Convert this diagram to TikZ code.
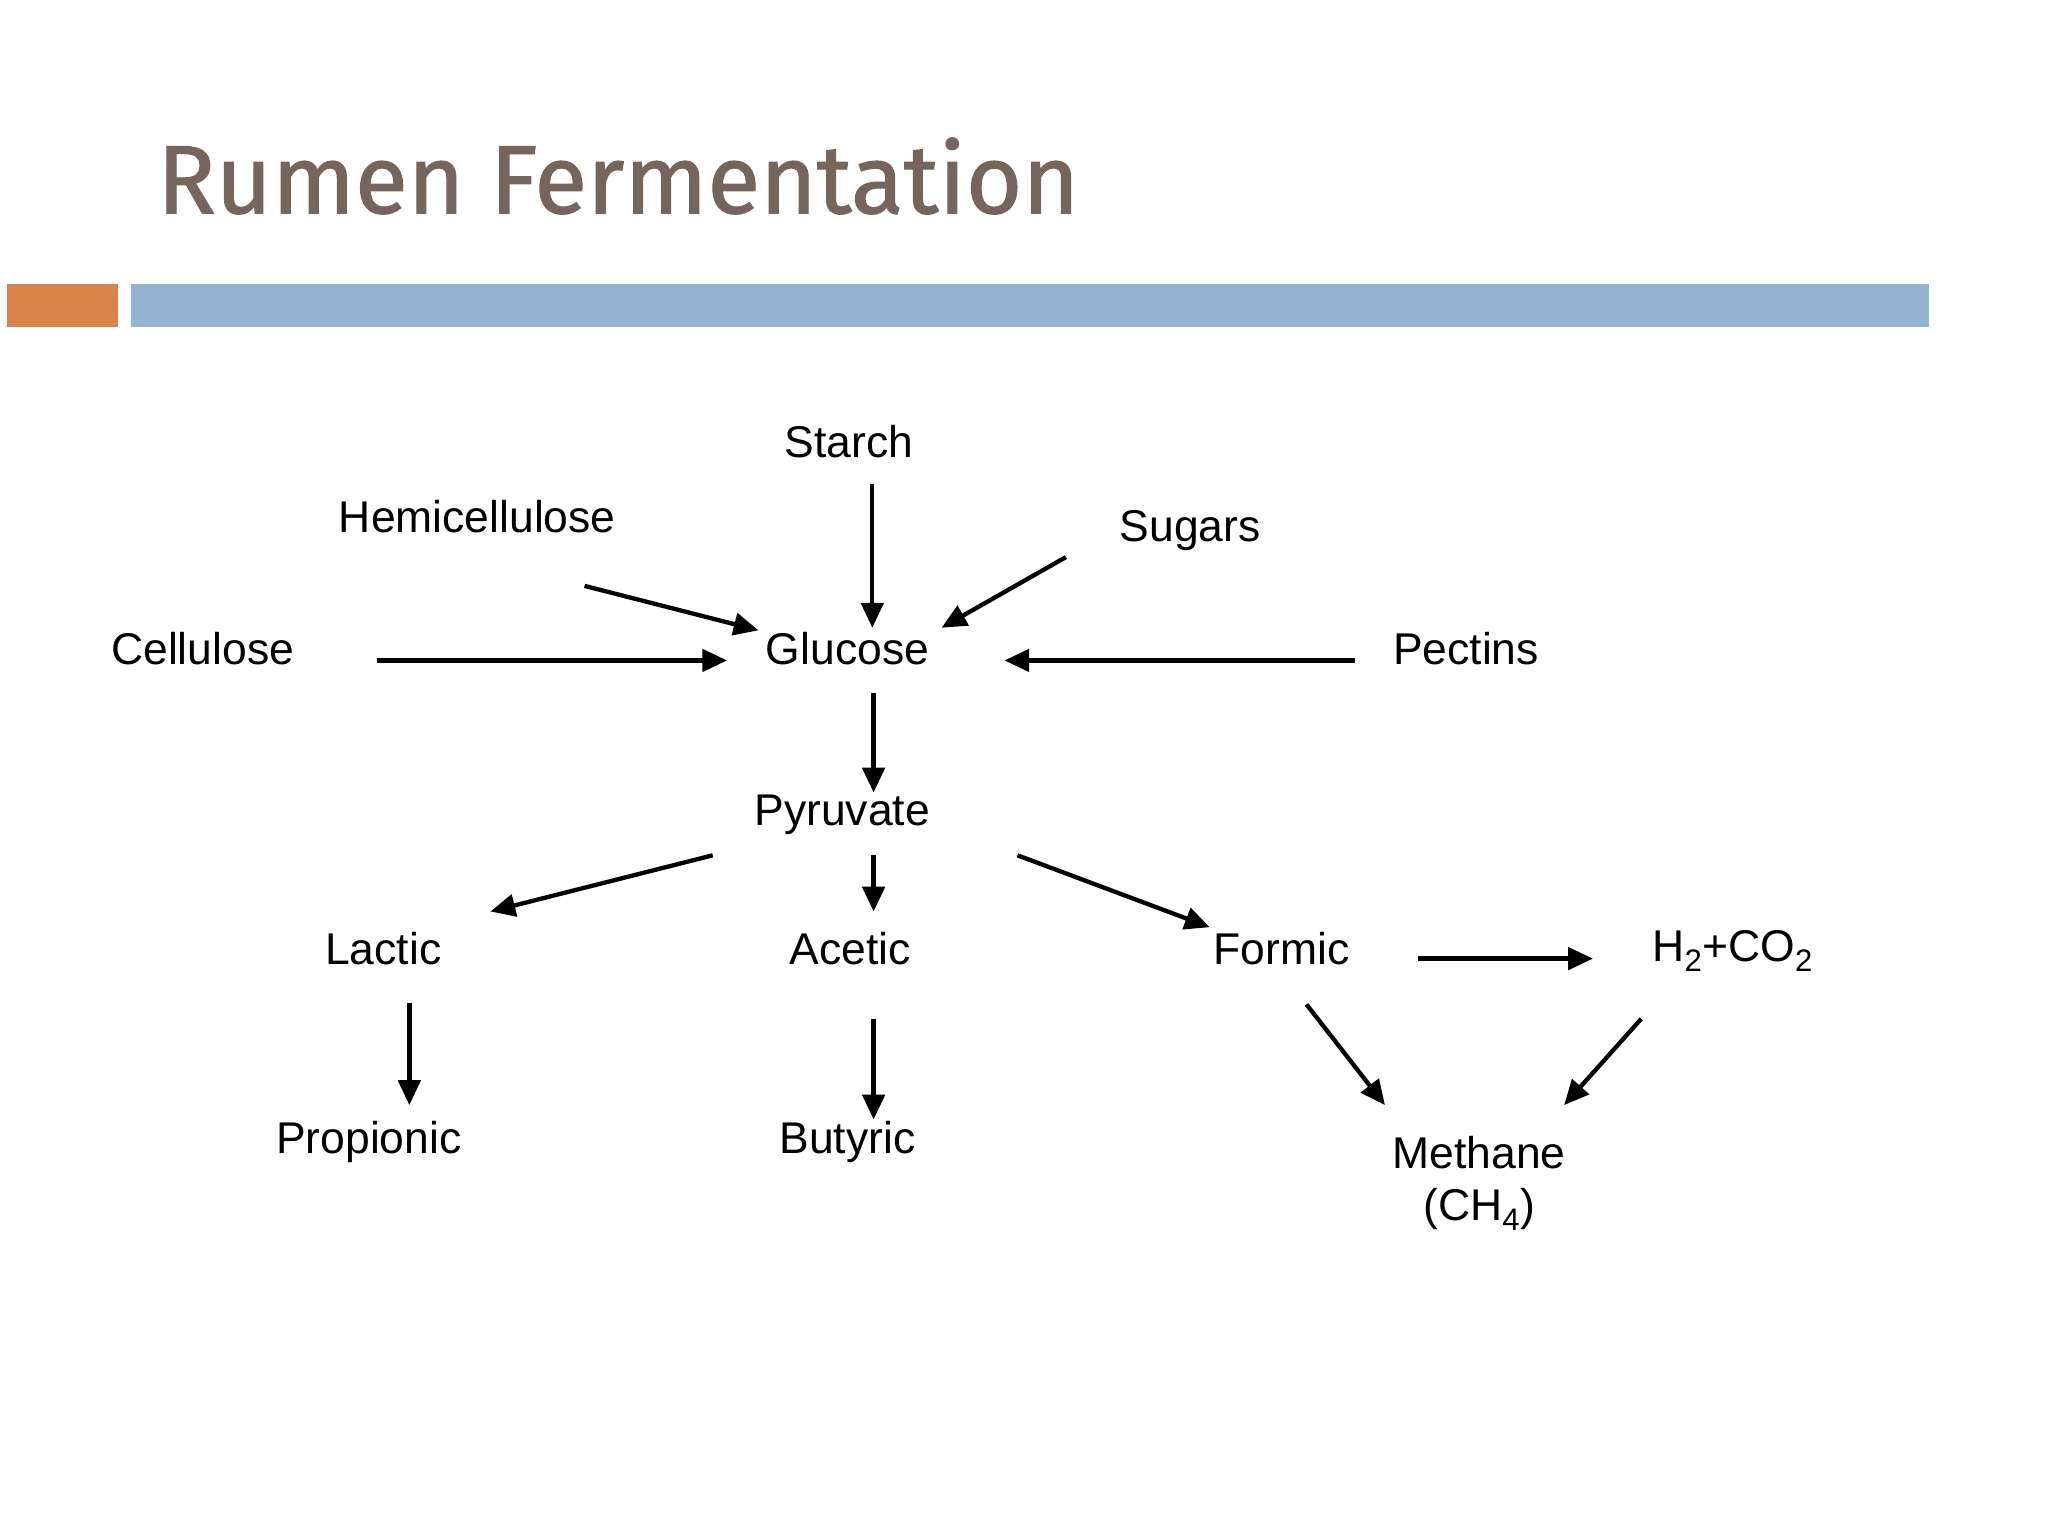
\documentclass[tikz,border=0pt]{standalone}
\usepackage{fontspec}
\setmainfont{Liberation Sans}
\newfontfamily\titlefont[FakeBold=1.2]{Fira Sans}
\usetikzlibrary{arrows.meta}
\definecolor{titlec}{HTML}{76655D}
\definecolor{barorange}{HTML}{D9824A}
\definecolor{barblue}{HTML}{94B3D3}
\tikzset{lbl/.style={font=\fontsize{34}{40}\selectfont, inner sep=0pt, anchor=center},
  arr/.style={line width=3.3pt, -{Triangle[length=19pt,width=17pt]}}}
\begin{document}
\begin{tikzpicture}[x=1pt,y=-1pt]
\useasboundingbox (0,0) rectangle (1566,1175);
\fill[white] (0,0) rectangle (1566,1175);
\node[anchor=base west, inner sep=0pt, text=titlec, font=\titlefont\fontsize{74}{80}\selectfont] (title) at (120,163) {Rumen Fermentation};
\fill[barorange] (5,217) rectangle (90,250);
\fill[barblue] (100,217) rectangle (1475,250);
\node[lbl] (starch) at (649,338) {Starch};
\node[lbl] (hemi) at (365,395) {Hemicellulose};
\node[lbl] (sugars) at (910,406) {Sugars};
\node[lbl] (cell) at (155,496) {Cellulose};
\node[lbl] (glu) at (648,496) {Glucose};
\node[lbl] (pec) at (1121,496) {Pectins};
\node[lbl] (pyr) at (644,623) {Pyruvate};
\node[lbl] (lac) at (293,725) {Lactic};
\node[lbl] (ace) at (650,725) {Acetic};
\node[lbl] (for) at (980,725) {Formic};
\node[lbl] (h2) at (1325,727) {H\textsubscript{2}+CO\textsubscript{2}};
\node[lbl] (pro) at (282,873) {Propionic};
\node[lbl] (but) at (648,873) {Butyric};
\node[lbl, align=center] (met) at (1131,905) {Methane\\(CH\textsubscript{4})};
\foreach \n/\ax/\ay/\bx/\by in {s1/667/370/667/480, s2/447/448/580/482, s3/815/426/720/480,
  s4/288/505/556/505, s5/1036/505/768/505, s6/668/530/668/606, s7/545/654/375/697,
  s8/668/654/668/697, s9/778/654/925/709, s10/1084/733/1218/733, s11/313/767/313/845,
  s12/668/779/668/856, s13/999/768/1059/845, s14/1255/779/1196/845}{
  \coordinate (\n a) at (\ax,\ay); \coordinate (\n b) at (\bx,\by);
  \draw[arr] (\n a) -- (\n b);}
\end{tikzpicture}
\end{document}
